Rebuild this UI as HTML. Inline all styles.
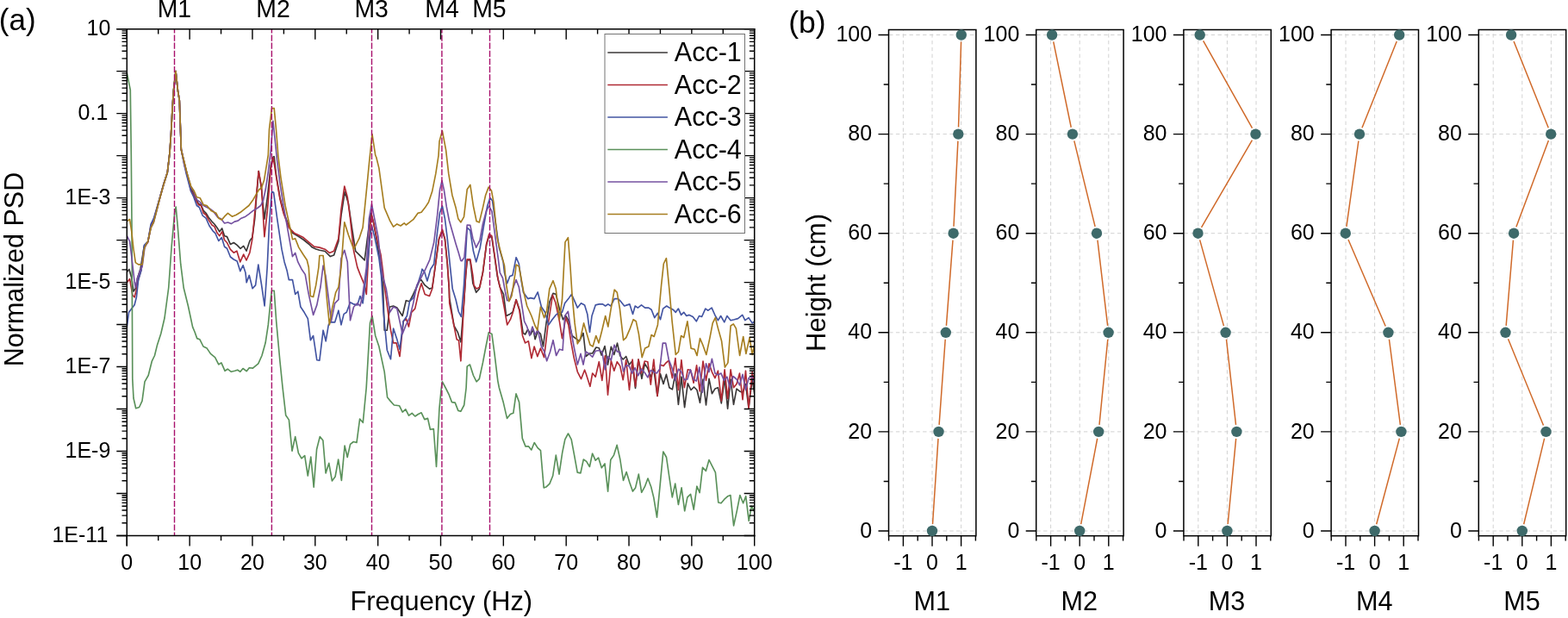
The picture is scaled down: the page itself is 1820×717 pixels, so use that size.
<!DOCTYPE html>
<html><head><meta charset="utf-8"><title>PSD and mode shapes</title>
<style>html,body{margin:0;padding:0;background:#fff;overflow:hidden;}svg{display:block;}</style>
</head><body>
<svg width="1820" height="717" viewBox="0 0 1820 717">
<rect width="1820" height="717" fill="#fff"/>
<g font-family="'Liberation Sans', Arial, sans-serif" fill="#000">
<clipPath id="clipA"><rect x="147.3" y="33.66" width="728.4000000000001" height="587.84"/></clipPath>
<g clip-path="url(#clipA)" fill="none" stroke-width="1.65" stroke-linejoin="round" stroke-linecap="round">
<path d="M147.2,315.8 L149.9,312.4 L152.8,322.5 L155.0,338.1 L157.3,334.7 L159.6,322.5 L163.0,312.0 L167.3,286.0 L171.7,280.5 L175.1,263.0 L178.4,256.0 L181.8,243.5 L185.0,231.5 L190.0,213.7 L194.3,200.0 L197.0,177.1 L198.6,153.7 L200.1,125.0 L201.5,104.9 L204.0,82.5 L206.4,104.9 L208.3,116.6 L210.3,173.2 L212.0,180.5 L216.0,197.0 L221.6,219.0 L224.5,223.9 L227.4,229.8 L230.4,236.6 L233.3,237.6 L236.2,244.4 L239.1,247.3 L242.1,252.2 L246.0,257.1 L248.9,260.0 L251.8,263.9 L254.8,268.8 L257.7,264.9 L260.6,273.7 L263.5,274.6 L267.4,283.4 L271.3,281.5 L275.2,284.4 L279.1,288.3 L282.7,285.4 L286.0,291.2 L289.9,279.5 L292.8,275.6 L295.7,254.1 L297.7,228.8 L300.2,198.5 L303.5,219.0 L306.9,254.1 L310.4,228.8 L314.3,191.7 L317.2,182.0 L318.2,181.5 L320.7,204.0 L324.9,229.0 L329.1,246.0 L335.3,262.0 L339.5,270.4 L346.0,274.0 L352.1,278.0 L358.3,283.0 L362.5,287.1 L366.7,289.0 L370.9,290.3 L377.2,291.5 L383.4,297.6 L387.6,296.0 L392.9,280.0 L396.0,250.0 L400.2,222.3 L404.4,236.0 L408.5,264.1 L412.7,291.3 L419.0,297.6 L423.2,301.8 L426.3,277.0 L430.5,247.4 L433.6,258.0 L437.8,282.0 L441.5,305.0 L444.5,330.0 L446.2,383.2 L449.3,383.2 L452.5,356.0 L456.6,355.0 L460.8,357.0 L467.1,366.5 L471.3,348.7 L475.5,349.7 L479.7,341.4 L488.0,323.6 L493.2,330.9 L498.5,335.1 L501.7,334.0 L505.6,306.0 L509.5,277.5 L513.4,267.5 L516.4,277.5 L519.3,306.5 L521.3,335.0 L521.7,345.6 L527.0,378.0 L531.2,385.3 L534.9,396.8 L538.5,351.8 L540.6,320.0 L542.2,302.0 L545.8,302.0 L548.9,328.8 L552.7,339.3 L556.3,335.1 L560.4,316.3 L562.5,300.0 L564.6,284.0 L567.8,273.0 L570.9,276.0 L574.0,297.0 L577.2,320.0 L580.3,333.0 L584.5,341.4 L587.6,366.5 L591.8,364.4 L595.0,362.3 L599.1,347.7 L603.3,360.2 L607.1,386.4 L609.6,388.0 L612.7,382.2 L615.9,388.0 L619.0,382.2 L621.1,393.7 L624.2,384.3 L627.4,387.4 L630.5,402.0 L634.0,375.0 L638.0,350.0 L642.0,340.3 L645.2,341.4 L649.4,358.1 L653.5,370.7 L656.7,366.5 L659.8,371.7 L664.0,389.5 L668.2,392.6 L672.4,395.8 L677.0,386.4 L680.0,413.5 L684.2,410.0 L687.7,410.0 L691.9,403.0 L695.3,403.7 L698.1,412.1 L702.0,401.6 L705.5,423.2 L709.3,402.3 L712.8,411.4 L716.5,398.1 L719.7,412.8 L723.2,417.0 L726.7,413.5 L730.2,423.2 L733.7,419.0 L737.5,450.4 L741.0,417.0 L744.9,439.3 L748.3,421.8 L751.8,427.4 L755.3,437.2 L758.8,428.1 L763.0,459.5 L766.5,433.7 L770.0,445.5 L773.4,434.4 L776.9,449.7 L780.4,451.8 L783.9,433.7 L787.4,469.3 L790.9,437.2 L794.6,472.7 L798.3,444.9 L802.0,452.5 L805.5,449.0 L809.0,452.5 L812.5,467.2 L816.0,440.0 L819.5,470.0 L823.0,439.3 L826.4,456.7 L829.9,451.1 L833.4,449.7 L837.3,467.9 L841.1,438.6 L844.6,474.1 L848.1,440.0 L851.5,469.3 L855.0,451.1 L858.5,453.9 L862.0,455.3 L865.5,445.5 L869.0,473.4 L873.2,440.0 L876.7,463.7" stroke="#3a3737"/>
<path d="M147.2,328.1 L150.6,323.6 L153.9,342.5 L156.1,344.8 L158.4,335.9 L160.6,324.0 L164.0,313.0 L167.3,287.0 L171.7,281.0 L175.1,262.0 L178.4,255.0 L181.8,243.0 L185.0,231.5 L190.0,213.5 L194.3,200.0 L197.0,177.1 L198.6,153.7 L200.1,125.0 L201.5,104.9 L204.0,82.5 L206.4,104.9 L208.3,116.6 L210.3,173.2 L212.0,181.0 L216.0,198.0 L221.6,221.0 L224.5,225.9 L227.4,232.7 L230.4,237.6 L233.3,238.5 L236.2,247.3 L239.1,249.3 L242.1,255.1 L246.0,261.0 L248.9,262.9 L251.8,269.8 L254.8,273.7 L257.7,268.8 L260.6,278.5 L263.5,281.5 L267.4,289.3 L271.3,293.2 L274.9,291.2 L278.8,303.9 L282.7,295.1 L286.0,302.0 L289.9,293.2 L292.8,277.6 L295.1,254.1 L297.7,224.9 L300.2,198.5 L303.5,217.1 L306.9,274.6 L310.4,244.4 L314.3,195.6 L317.2,182.9 L320.7,205.6 L324.9,230.7 L329.1,247.4 L335.3,264.1 L341.6,270.4 L346.0,272.5 L352.1,275.6 L358.3,280.9 L364.6,286.1 L370.9,287.1 L377.2,289.2 L382.4,293.4 L387.6,291.3 L392.9,276.7 L396.0,243.2 L399.8,216.0 L403.3,228.6 L406.5,253.7 L410.6,291.3 L414.8,310.1 L418.0,318.4 L423.2,330.9 L425.3,341.4 L427.5,300.0 L429.5,264.1 L431.5,249.5 L434.7,264.0 L437.8,278.8 L442.0,295.5 L444.5,315.0 L446.2,330.9 L450.4,362.3 L453.5,383.2 L456.6,397.8 L460.0,397.8 L464.0,413.5 L468.2,372.7 L471.3,369.6 L474.4,379.0 L477.6,362.3 L481.7,358.1 L485.9,339.3 L489.1,328.8 L493.2,341.4 L498.5,343.5 L501.7,335.0 L505.6,306.3 L509.5,277.0 L513.4,266.3 L516.4,277.0 L519.3,306.3 L521.3,335.0 L521.7,351.8 L527.0,378.0 L530.1,393.7 L532.5,395.0 L534.9,418.8 L538.5,351.8 L540.5,320.0 L542.2,300.8 L545.8,300.8 L548.9,320.0 L550.0,330.9 L553.1,335.1 L556.9,333.0 L560.4,316.3 L562.5,300.0 L564.6,283.0 L567.8,271.5 L570.9,274.0 L574.0,295.5 L577.2,318.0 L578.2,324.6 L582.4,341.4 L585.5,358.1 L588.7,376.9 L592.4,370.7 L595.4,362.3 L599.1,347.7 L602.9,360.2 L606.5,389.5 L609.6,397.9 L613.4,395.8 L616.9,415.6 L620.1,402.0 L623.8,413.6 L627.4,404.1 L631.6,414.6 L635.8,379.0 L641.4,342.4 L644.7,350.8 L649.4,372.8 L652.5,392.6 L656.7,368.6 L659.8,376.9 L663.0,397.9 L666.1,414.6 L670.3,431.3 L674.5,439.7 L678.6,429.2 L680.0,433.0 L684.9,448.3 L687.7,433.0 L691.2,437.2 L695.3,419.7 L698.8,441.4 L702.3,412.8 L705.5,458.1 L709.3,418.4 L712.8,430.2 L716.3,419.7 L719.7,424.6 L723.2,440.7 L726.7,417.7 L730.5,452.5 L734.1,417.0 L737.5,448.3 L741.0,417.0 L744.4,433.0 L748.3,419.0 L751.8,419.7 L755.3,446.2 L758.8,417.0 L763.0,459.5 L766.5,423.2 L770.0,424.6 L773.0,421.0 L776.2,418.4 L780.4,438.6 L783.9,415.6 L787.4,452.5 L790.9,417.7 L794.4,449.7 L798.3,428.8 L801.6,429.5 L805.1,444.2 L808.6,423.9 L812.2,453.9 L816.0,419.0 L819.5,441.4 L823.0,421.8 L826.4,431.6 L829.9,438.6 L833.4,430.2 L837.3,465.1 L841.1,428.8 L844.6,462.3 L848.1,428.8 L851.5,449.7 L855.0,445.5 L858.5,433.0 L862.0,463.7 L865.5,430.2 L869.0,473.4 L873.2,431.6 L876.7,453.9" stroke="#b02a34"/>
<path d="M147.2,380.4 L149.5,362.6 L152.8,358.1 L156.1,353.7 L158.4,344.8 L160.6,324.7 L164.0,313.6 L167.3,284.6 L171.7,280.1 L175.1,260.1 L178.4,253.4 L181.8,242.0 L185.0,231.0 L190.0,213.0 L194.3,200.5 L197.0,177.1 L198.6,153.7 L200.1,125.0 L201.5,104.9 L204.0,82.5 L206.4,104.9 L208.3,116.6 L210.3,173.2 L212.0,182.0 L216.1,201.4 L221.6,222.0 L224.5,227.8 L228.4,238.5 L231.3,240.5 L235.2,250.2 L239.1,253.2 L243.0,262.0 L247.0,267.8 L249.9,270.7 L253.8,279.5 L257.3,275.6 L260.6,286.3 L263.5,288.3 L267.4,298.0 L271.3,301.0 L275.2,302.9 L278.8,314.6 L282.1,307.8 L285.0,316.6 L286.2,327.8 L289.3,319.4 L293.1,334.7 L296.6,330.9 L299.8,307.0 L303.5,330.0 L307.1,355.0 L310.2,310.0 L312.5,260.0 L315.5,222.3 L317.6,223.3 L321.7,253.7 L327.0,289.2 L330.1,303.9 L333.2,314.3 L335.3,324.6 L339.5,324.6 L342.7,341.4 L345.8,338.2 L348.9,356.0 L353.1,362.3 L357.3,369.6 L360.4,394.7 L363.6,389.5 L367.8,417.7 L370.9,418.1 L375.1,383.2 L378.2,395.8 L381.3,376.9 L383.4,373.8 L388.7,373.8 L392.9,360.2 L396.0,376.9 L399.1,364.4 L402.3,362.3 L406.5,350.8 L410.6,352.9 L414.8,353.9 L418.0,343.5 L421.1,351.8 L426.3,310.0 L429.5,274.6 L431.5,262.0 L434.7,274.6 L439.9,299.7 L442.5,320.0 L445.1,362.3 L449.3,406.2 L453.5,416.7 L456.6,381.1 L460.8,393.7 L464.0,405.2 L468.2,372.7 L472.4,366.5 L475.5,349.7 L479.7,345.6 L483.8,333.0 L489.1,316.3 L490.0,312.2 L492.9,316.1 L495.9,325.9 L499.8,312.2 L503.7,306.3 L507.6,269.2 L510.5,246.8 L513.4,238.9 L516.4,253.6 L519.3,277.0 L522.2,306.3 L525.2,335.0 L529.1,347.7 L532.2,361.3 L535.3,367.5 L538.5,330.9 L542.2,264.1 L545.8,267.3 L549.4,291.3 L552.7,303.9 L557.3,287.2 L561.5,262.0 L565.7,239.0 L568.8,229.6 L571.5,232.8 L575.1,257.9 L579.3,287.2 L584.1,303.9 L585.5,316.3 L588.7,328.8 L591.8,320.5 L595.0,319.4 L599.1,298.7 L602.3,306.0 L605.0,325.0 L607.5,339.3 L612.7,346.6 L615.9,345.6 L620.1,346.6 L624.2,338.9 L628.4,356.0 L632.6,362.3 L636.8,376.9 L641.0,370.7 L645.2,365.4 L649.4,362.3 L652.5,362.3 L655.6,351.8 L659.8,346.6 L663.4,341.4 L667.1,349.7 L670.3,357.1 L674.5,351.8 L678.6,353.9 L681.8,364.4 L684.5,385.3 L687.0,366.5 L691.2,353.9 L695.4,352.9 L699.6,352.9 L702.7,355.0 L705.8,352.9 L709.0,355.0 L713.2,346.6 L717.3,346.6 L720.5,349.7 L724.7,355.0 L727.8,353.9 L730.9,352.9 L734.5,364.4 L737.2,355.0 L740.4,357.1 L744.5,353.9 L748.7,357.1 L752.9,357.1 L756.1,359.2 L759.8,368.6 L763.4,363.3 L766.5,370.7 L769.6,358.1 L773.8,355.0 L777.0,357.1 L781.2,359.2 L784.3,362.3 L787.4,358.1 L790.6,365.4 L793.7,362.3 L796.8,366.5 L800.0,365.4 L804.2,367.5 L808.3,372.8 L811.5,366.5 L814.6,367.5 L818.8,358.1 L821.9,360.2 L826.1,357.1 L830.3,366.5 L833.5,371.7 L836.6,366.5 L840.8,373.8 L843.9,366.5 L848.1,371.7 L852.3,370.7 L856.5,369.6 L861.7,365.4 L864.8,371.7 L869.0,368.6 L873.2,374.9 L875.7,372.8" stroke="#4254a2"/>
<path d="M147.1,83.3 L151.3,104.3 L152.3,180.0 L153.0,260.0 L153.4,351.8 L153.8,439.7 L155.0,462.0 L157.7,473.7 L161.6,472.5 L165.0,465.1 L168.0,442.8 L172.2,435.5 L176.4,418.8 L179.5,412.5 L182.6,399.9 L186.8,387.0 L191.0,369.0 L195.7,334.0 L199.2,285.3 L202.7,247.0 L204.2,240.0 L206.2,262.0 L209.7,306.2 L213.2,334.0 L218.4,355.0 L223.6,379.4 L226.0,385.0 L228.7,392.6 L231.8,393.7 L236.0,402.0 L240.2,404.1 L244.4,410.4 L249.6,414.6 L253.8,422.9 L256.9,420.9 L261.1,430.3 L264.2,428.2 L268.4,431.3 L272.6,430.3 L275.7,429.2 L278.9,431.3 L282.0,427.5 L286.2,430.7 L289.3,426.7 L293.5,427.1 L299.8,421.9 L304.0,412.5 L308.1,397.8 L311.3,376.9 L314.4,345.6 L315.5,337.2 L318.2,337.2 L320.7,372.7 L324.9,418.8 L328.1,450.0 L331.7,481.7 L335.4,487.1 L339.0,523.2 L342.7,506.6 L346.4,525.7 L350.0,531.8 L353.7,528.6 L357.3,552.0 L360.8,530.1 L364.2,565.2 L367.6,521.3 L371.3,506.6 L374.9,511.0 L378.1,548.9 L381.8,537.4 L385.4,557.9 L389.1,553.0 L392.7,533.0 L396.4,557.4 L400.1,517.1 L403.2,530.5 L406.6,515.4 L410.3,512.5 L414.0,513.5 L417.6,486.1 L421.3,490.3 L423.3,469.5 L425.2,450.0 L429.5,374.8 L432.0,366.5 L435.7,389.5 L439.9,402.0 L446.2,431.3 L449.6,461.0 L453.0,465.1 L457.4,470.0 L463.5,470.7 L467.2,478.1 L470.8,474.9 L474.5,482.2 L478.2,479.3 L481.8,483.0 L485.5,480.5 L489.1,478.8 L492.8,486.6 L496.5,485.4 L499.4,498.3 L503.3,497.6 L506.5,541.5 L509.9,474.4 L512.3,450.0 L513.4,442.8 L517.2,450.0 L520.9,457.3 L524.5,466.6 L528.2,467.1 L531.8,476.4 L534.8,477.3 L538.7,470.0 L541.1,450.0 L542.2,425.1 L545.4,423.0 L549.4,435.5 L553.1,442.8 L556.3,439.7 L560.4,420.9 L564.0,402.0 L567.3,385.7 L570.9,387.4 L574.0,410.4 L577.8,441.8 L579.4,450.0 L584.3,467.1 L588.5,485.4 L592.4,480.5 L595.8,479.3 L599.0,456.8 L602.6,466.6 L606.3,508.6 L610.0,517.9 L613.6,517.9 L616.8,522.0 L620.2,513.5 L624.1,519.6 L627.5,522.7 L631.2,565.9 L634.4,564.7 L638.0,561.1 L641.7,552.0 L645.3,528.1 L649.0,550.1 L652.7,525.2 L655.8,509.8 L659.5,503.0 L663.2,509.8 L666.6,528.1 L670.2,548.1 L673.9,548.9 L677.3,533.0 L680.7,535.4 L684.4,541.5 L687.6,526.2 L691.2,534.2 L694.6,531.0 L698.3,542.8 L702.0,537.9 L705.6,570.1 L708.8,533.5 L712.5,528.1 L716.1,516.4 L719.8,533.0 L723.5,557.4 L727.1,547.6 L730.8,559.8 L734.4,570.1 L737.6,565.9 L741.3,550.1 L744.7,571.3 L748.4,564.7 L752.0,555.0 L755.7,564.7 L758.8,577.4 L762.5,600.1 L766.2,562.3 L769.8,524.0 L773.5,530.5 L776.7,552.5 L780.3,576.9 L783.7,561.1 L787.4,585.5 L791.1,565.9 L794.7,592.8 L797.9,576.9 L801.6,573.3 L805.2,591.1 L808.9,564.2 L812.1,571.6 L815.5,542.3 L819.4,546.4 L823.0,533.5 L826.7,540.8 L830.4,548.1 L833.8,583.0 L837.0,583.8 L840.6,579.4 L844.8,575.7 L847.9,574.5 L851.6,609.9 L855.3,592.8 L858.9,574.5 L862.6,583.8 L865.7,575.7 L869.2,604.3 L872.3,587.2 L875.7,593.5" stroke="#5a915a"/>
<path d="M147.2,273.4 L150.6,280.1 L152.8,298.0 L156.1,326.9 L157.3,333.6 L159.5,322.5 L162.8,313.6 L165.1,309.1 L168.0,287.1 L171.7,280.1 L175.1,264.5 L178.4,257.8 L181.8,244.5 L185.0,232.0 L190.0,213.9 L194.3,200.0 L197.0,177.1 L198.6,153.7 L200.1,125.0 L201.5,104.9 L204.0,82.5 L206.4,104.9 L208.3,116.6 L210.3,173.2 L211.8,180.0 L214.0,192.0 L221.6,216.5 L224.5,221.0 L228.4,231.7 L232.3,234.6 L236.2,238.5 L240.1,240.5 L244.0,242.4 L247.9,245.4 L252.8,252.2 L256.7,254.1 L260.6,259.0 L264.5,258.0 L268.4,259.6 L272.3,257.1 L276.2,256.1 L280.1,253.2 L285.0,251.2 L288.9,248.3 L293.8,244.4 L298.7,241.5 L302.6,238.5 L305.5,232.7 L308.4,219.0 L311.3,199.5 L314.4,174.2 L316.9,140.4 L319.5,165.0 L321.5,185.0 L324.9,211.8 L329.1,239.0 L334.3,268.3 L339.5,297.6 L342.7,293.4 L345.8,303.9 L350.0,312.2 L354.2,318.4 L358.3,341.4 L363.6,365.4 L367.8,353.9 L372.0,333.0 L375.1,308.0 L378.0,320.0 L381.3,345.6 L384.5,372.7 L388.7,351.8 L392.9,347.6 L396.0,299.7 L399.8,290.3 L403.3,303.9 L406.5,371.7 L410.6,356.0 L414.8,351.8 L418.0,355.0 L421.1,341.4 L425.3,310.0 L428.4,253.7 L431.5,236.9 L434.7,253.7 L438.9,274.6 L441.5,300.0 L444.1,320.0 L448.3,335.1 L452.5,362.3 L456.6,356.0 L460.8,358.0 L467.1,387.4 L471.3,376.9 L475.5,368.6 L479.7,351.8 L483.8,330.9 L489.1,321.5 L493.9,312.2 L498.8,301.4 L503.7,281.0 L507.6,249.7 L510.5,220.4 L513.0,209.6 L515.4,220.4 L518.3,239.9 L521.3,255.5 L525.2,269.2 L529.1,282.9 L532.2,293.0 L534.9,302.4 L536.0,302.8 L538.9,298.7 L542.2,261.0 L545.8,261.4 L548.9,276.7 L552.7,287.2 L556.9,278.8 L560.4,260.0 L564.6,244.3 L567.8,239.0 L570.9,245.3 L574.0,268.3 L578.2,299.7 L580.3,316.3 L583.5,322.5 L586.6,339.3 L588.7,348.7 L591.8,347.7 L596.0,333.0 L599.1,324.6 L602.3,333.0 L605.4,351.8 L608.6,372.8 L611.7,379.0 L614.8,389.5 L618.0,379.0 L621.1,388.5 L624.2,382.2 L628.4,402.0 L631.6,407.3 L634.7,418.8 L638.5,408.3 L642.0,394.7 L645.6,412.5 L649.4,405.2 L653.1,406.2 L655.6,366.5 L659.4,361.3 L662.3,381.1 L666.1,402.0 L670.3,423.0 L674.0,410.4 L677.0,423.0 L680.0,407.9 L683.5,410.5 L687.7,414.2 L691.2,407.2 L695.3,406.5 L698.8,407.9 L702.3,428.8 L705.8,413.5 L709.3,417.7 L713.1,400.2 L716.3,407.9 L719.7,408.6 L723.5,430.9 L726.7,423.9 L730.2,424.6 L733.7,433.0 L737.2,426.7 L740.7,435.8 L744.4,428.1 L748.3,432.3 L751.8,437.9 L755.3,429.5 L758.8,431.6 L762.3,433.0 L765.8,428.1 L769.3,398.1 L772.7,398.1 L776.2,417.0 L779.7,426.0 L783.9,441.4 L787.4,428.1 L790.9,431.6 L794.4,440.7 L797.9,440.0 L801.3,428.8 L804.8,440.0 L808.3,442.1 L811.8,426.0 L815.3,455.3 L819.5,421.8 L823.0,431.6 L826.4,416.3 L829.9,433.0 L833.4,435.1 L836.9,433.0 L840.4,441.4 L843.9,437.2 L847.4,450.4 L850.9,436.5 L855.0,440.0 L858.5,446.9 L862.0,434.4 L865.5,452.5 L869.0,438.6 L872.5,436.5 L876.7,446.2" stroke="#7450a0"/>
<path d="M147.2,256.7 L150.6,254.5 L152.8,269.0 L155.0,289.0 L157.3,304.6 L160.6,306.9 L165.1,306.9 L167.3,289.0 L169.5,283.5 L171.7,280.1 L175.1,264.5 L178.4,257.8 L181.8,244.5 L185.0,232.0 L190.0,213.9 L194.3,200.0 L197.0,177.1 L198.6,153.7 L200.1,125.0 L201.5,104.9 L204.0,82.5 L206.4,104.9 L208.3,116.6 L210.3,173.2 L211.8,180.0 L216.7,199.5 L221.6,216.1 L225.5,222.0 L228.4,228.8 L232.3,229.8 L236.2,237.6 L240.1,238.5 L245.0,244.4 L250.9,247.3 L253.8,253.2 L257.3,255.1 L260.6,251.2 L264.5,247.3 L269.4,251.2 L274.3,249.3 L279.1,246.3 L284.0,242.4 L288.9,238.5 L293.8,231.7 L297.7,224.9 L300.6,220.0 L303.5,218.0 L306.5,209.3 L309.4,191.7 L311.3,180.0 L312.5,150.0 L315.5,125.6 L318.2,125.6 L320.5,150.0 L322.8,180.0 L325.9,205.6 L331.2,239.0 L335.3,257.8 L339.5,277.7 L342.7,276.7 L346.8,287.1 L352.1,295.5 L356.3,301.8 L358.3,310.0 L360.4,343.5 L363.6,344.5 L366.7,330.9 L369.9,310.0 L370.9,296.5 L375.1,296.5 L376.5,310.0 L379.3,345.6 L382.4,376.9 L385.5,358.1 L389.7,339.3 L392.9,333.0 L396.0,310.0 L399.8,257.8 L404.4,272.5 L410.6,289.2 L416.9,276.7 L421.1,264.1 L426.3,211.8 L428.4,190.0 L432.0,155.5 L435.7,180.0 L436.8,182.5 L439.9,195.1 L446.2,241.1 L452.5,255.8 L456.6,263.1 L460.8,259.9 L465.0,262.0 L469.2,258.9 L471.3,261.0 L475.5,257.8 L479.7,254.7 L484.9,247.4 L489.1,246.3 L493.2,241.1 L497.4,234.8 L501.6,222.3 L505.8,201.4 L509.0,180.5 L510.0,163.9 L513.4,151.8 L517.6,174.2 L520.7,201.4 L524.9,226.5 L529.1,241.1 L531.8,253.7 L534.9,257.9 L538.5,251.6 L542.2,219.8 L545.8,214.4 L549.4,239.0 L553.1,256.8 L556.3,257.9 L560.4,241.1 L563.6,226.5 L567.1,217.1 L570.5,221.3 L573.0,234.9 L577.2,276.7 L581.4,293.4 L585.5,308.1 L587.6,330.0 L590.8,349.7 L593.9,343.5 L598.1,316.3 L599.1,307.0 L602.3,309.1 L604.4,320.0 L607.5,337.2 L611.7,355.0 L616.9,366.5 L621.1,378.0 L623.8,383.2 L627.4,356.0 L631.6,368.6 L634.7,360.2 L637.8,335.1 L642.0,325.7 L645.2,335.1 L649.4,370.7 L652.5,347.7 L656.0,280.9 L659.4,275.6 L662.0,310.0 L664.0,341.4 L667.1,374.9 L670.3,398.9 L673.4,393.7 L677.6,374.9 L681.8,389.5 L684.9,400.0 L688.1,402.0 L691.8,389.5 L695.0,397.9 L698.5,384.3 L702.7,366.5 L705.8,379.0 L709.0,359.2 L713.2,336.2 L716.3,339.3 L719.4,358.1 L723.6,394.7 L726.8,391.6 L730.9,382.2 L735.1,370.7 L738.3,372.8 L741.4,387.4 L745.2,414.6 L748.7,404.1 L752.9,402.0 L756.1,388.5 L759.2,390.5 L763.4,376.9 L767.6,330.9 L770.3,306.0 L773.4,299.7 L777.0,337.2 L780.1,372.8 L784.3,411.5 L787.4,408.3 L790.6,389.5 L793.7,391.6 L797.9,372.8 L802.1,404.1 L806.2,405.2 L809.0,412.5 L812.5,392.6 L815.7,400.0 L819.8,411.5 L824.0,391.6 L827.2,374.9 L830.3,368.6 L833.5,381.1 L837.6,395.8 L841.4,426.1 L844.9,420.9 L848.1,378.0 L851.3,375.9 L854.4,381.1 L858.6,412.5 L862.7,390.5 L865.9,410.4 L870.1,391.6 L873.2,411.5 L875.7,400.0" stroke="#a67e20"/>
</g>
<line x1="202.5" y1="33.66" x2="202.5" y2="621.5" stroke="#a8106c" stroke-width="1.4" stroke-dasharray="7.2 1.96" stroke-dashoffset="2.36"/>
<line x1="315.4" y1="33.66" x2="315.4" y2="621.5" stroke="#a8106c" stroke-width="1.4" stroke-dasharray="7.2 1.96" stroke-dashoffset="2.36"/>
<line x1="431.5" y1="33.66" x2="431.5" y2="621.5" stroke="#a8106c" stroke-width="1.4" stroke-dasharray="7.2 1.96" stroke-dashoffset="2.36"/>
<line x1="512.9" y1="33.66" x2="512.9" y2="621.5" stroke="#a8106c" stroke-width="1.4" stroke-dasharray="7.2 1.96" stroke-dashoffset="2.36"/>
<line x1="568.5" y1="33.66" x2="568.5" y2="621.5" stroke="#a8106c" stroke-width="1.4" stroke-dasharray="7.2 1.96" stroke-dashoffset="2.36"/>
<g stroke="#000" stroke-width="1.5" fill="none">
<line x1="135.3" y1="33.66" x2="876.45" y2="33.66"/>
<line x1="135.3" y1="621.5" x2="876.45" y2="621.5"/>
<line x1="147.3" y1="32.91" x2="147.3" y2="633.5"/>
<line x1="875.7" y1="32.91" x2="875.7" y2="622.25"/>
<path d="M135.3,33.66H147.3M875.7,33.66H863.7M141.5,67.90H147.3M875.7,67.90H869.9000000000001M141.5,59.27H147.3M875.7,59.27H869.9000000000001M141.5,53.15H147.3M875.7,53.15H869.9000000000001M141.5,48.41H147.3M875.7,48.41H869.9000000000001M141.5,44.53H147.3M875.7,44.53H869.9000000000001M141.5,41.25H147.3M875.7,41.25H869.9000000000001M141.5,38.41H147.3M875.7,38.41H869.9000000000001M141.5,35.90H147.3M875.7,35.90H869.9000000000001M135.3,82.65H147.3M875.7,82.65H863.7M141.5,116.89H147.3M875.7,116.89H869.9000000000001M141.5,108.26H147.3M875.7,108.26H869.9000000000001M141.5,102.14H147.3M875.7,102.14H869.9000000000001M141.5,97.39H147.3M875.7,97.39H869.9000000000001M141.5,93.51H147.3M875.7,93.51H869.9000000000001M141.5,90.23H147.3M875.7,90.23H869.9000000000001M141.5,87.39H147.3M875.7,87.39H869.9000000000001M141.5,84.89H147.3M875.7,84.89H869.9000000000001M135.3,131.63H147.3M875.7,131.63H863.7M141.5,165.87H147.3M875.7,165.87H869.9000000000001M141.5,157.25H147.3M875.7,157.25H869.9000000000001M141.5,151.13H147.3M875.7,151.13H869.9000000000001M141.5,146.38H147.3M875.7,146.38H869.9000000000001M141.5,142.50H147.3M875.7,142.50H869.9000000000001M141.5,139.22H147.3M875.7,139.22H869.9000000000001M141.5,136.38H147.3M875.7,136.38H869.9000000000001M141.5,133.87H147.3M875.7,133.87H869.9000000000001M135.3,180.62H147.3M875.7,180.62H863.7M141.5,214.86H147.3M875.7,214.86H869.9000000000001M141.5,206.23H147.3M875.7,206.23H869.9000000000001M141.5,200.11H147.3M875.7,200.11H869.9000000000001M141.5,195.37H147.3M875.7,195.37H869.9000000000001M141.5,191.49H147.3M875.7,191.49H869.9000000000001M141.5,188.21H147.3M875.7,188.21H869.9000000000001M141.5,185.37H147.3M875.7,185.37H869.9000000000001M141.5,182.86H147.3M875.7,182.86H869.9000000000001M135.3,229.61H147.3M875.7,229.61H863.7M141.5,263.85H147.3M875.7,263.85H869.9000000000001M141.5,255.22H147.3M875.7,255.22H869.9000000000001M141.5,249.10H147.3M875.7,249.10H869.9000000000001M141.5,244.35H147.3M875.7,244.35H869.9000000000001M141.5,240.47H147.3M875.7,240.47H869.9000000000001M141.5,237.19H147.3M875.7,237.19H869.9000000000001M141.5,234.35H147.3M875.7,234.35H869.9000000000001M141.5,231.85H147.3M875.7,231.85H869.9000000000001M135.3,278.59H147.3M875.7,278.59H863.7M141.5,312.83H147.3M875.7,312.83H869.9000000000001M141.5,304.21H147.3M875.7,304.21H869.9000000000001M141.5,298.09H147.3M875.7,298.09H869.9000000000001M141.5,293.34H147.3M875.7,293.34H869.9000000000001M141.5,289.46H147.3M875.7,289.46H869.9000000000001M141.5,286.18H147.3M875.7,286.18H869.9000000000001M141.5,283.34H147.3M875.7,283.34H869.9000000000001M141.5,280.83H147.3M875.7,280.83H869.9000000000001M135.3,327.58H147.3M875.7,327.58H863.7M141.5,361.82H147.3M875.7,361.82H869.9000000000001M141.5,353.19H147.3M875.7,353.19H869.9000000000001M141.5,347.07H147.3M875.7,347.07H869.9000000000001M141.5,342.33H147.3M875.7,342.33H869.9000000000001M141.5,338.45H147.3M875.7,338.45H869.9000000000001M141.5,335.17H147.3M875.7,335.17H869.9000000000001M141.5,332.33H147.3M875.7,332.33H869.9000000000001M141.5,329.82H147.3M875.7,329.82H869.9000000000001M135.3,376.57H147.3M875.7,376.57H863.7M141.5,410.81H147.3M875.7,410.81H869.9000000000001M141.5,402.18H147.3M875.7,402.18H869.9000000000001M141.5,396.06H147.3M875.7,396.06H869.9000000000001M141.5,391.31H147.3M875.7,391.31H869.9000000000001M141.5,387.43H147.3M875.7,387.43H869.9000000000001M141.5,384.15H147.3M875.7,384.15H869.9000000000001M141.5,381.31H147.3M875.7,381.31H869.9000000000001M141.5,378.81H147.3M875.7,378.81H869.9000000000001M135.3,425.55H147.3M875.7,425.55H863.7M141.5,459.79H147.3M875.7,459.79H869.9000000000001M141.5,451.17H147.3M875.7,451.17H869.9000000000001M141.5,445.05H147.3M875.7,445.05H869.9000000000001M141.5,440.30H147.3M875.7,440.30H869.9000000000001M141.5,436.42H147.3M875.7,436.42H869.9000000000001M141.5,433.14H147.3M875.7,433.14H869.9000000000001M141.5,430.30H147.3M875.7,430.30H869.9000000000001M141.5,427.79H147.3M875.7,427.79H869.9000000000001M135.3,474.54H147.3M875.7,474.54H863.7M141.5,508.78H147.3M875.7,508.78H869.9000000000001M141.5,500.15H147.3M875.7,500.15H869.9000000000001M141.5,494.03H147.3M875.7,494.03H869.9000000000001M141.5,489.29H147.3M875.7,489.29H869.9000000000001M141.5,485.41H147.3M875.7,485.41H869.9000000000001M141.5,482.13H147.3M875.7,482.13H869.9000000000001M141.5,479.29H147.3M875.7,479.29H869.9000000000001M141.5,476.78H147.3M875.7,476.78H869.9000000000001M135.3,523.53H147.3M875.7,523.53H863.7M141.5,557.77H147.3M875.7,557.77H869.9000000000001M141.5,549.14H147.3M875.7,549.14H869.9000000000001M141.5,543.02H147.3M875.7,543.02H869.9000000000001M141.5,538.27H147.3M875.7,538.27H869.9000000000001M141.5,534.39H147.3M875.7,534.39H869.9000000000001M141.5,531.11H147.3M875.7,531.11H869.9000000000001M141.5,528.27H147.3M875.7,528.27H869.9000000000001M141.5,525.77H147.3M875.7,525.77H869.9000000000001M135.3,572.51H147.3M875.7,572.51H863.7M141.5,606.75H147.3M875.7,606.75H869.9000000000001M141.5,598.13H147.3M875.7,598.13H869.9000000000001M141.5,592.01H147.3M875.7,592.01H869.9000000000001M141.5,587.26H147.3M875.7,587.26H869.9000000000001M141.5,583.38H147.3M875.7,583.38H869.9000000000001M141.5,580.10H147.3M875.7,580.10H869.9000000000001M141.5,577.26H147.3M875.7,577.26H869.9000000000001M141.5,574.75H147.3M875.7,574.75H869.9000000000001M135.3,621.50H147.3M875.7,621.50H863.7M147.30,621.5V633.5M147.30,33.66V45.66M183.72,621.5V627.3M183.72,33.66V39.459999999999994M220.14,621.5V633.5M220.14,33.66V45.66M256.56,621.5V627.3M256.56,33.66V39.459999999999994M292.98,621.5V633.5M292.98,33.66V45.66M329.40,621.5V627.3M329.40,33.66V39.459999999999994M365.82,621.5V633.5M365.82,33.66V45.66M402.24,621.5V627.3M402.24,33.66V39.459999999999994M438.66,621.5V633.5M438.66,33.66V45.66M475.08,621.5V627.3M475.08,33.66V39.459999999999994M511.50,621.5V633.5M511.50,33.66V45.66M547.92,621.5V627.3M547.92,33.66V39.459999999999994M584.34,621.5V633.5M584.34,33.66V45.66M620.76,621.5V627.3M620.76,33.66V39.459999999999994M657.18,621.5V633.5M657.18,33.66V45.66M693.60,621.5V627.3M693.60,33.66V39.459999999999994M730.02,621.5V633.5M730.02,33.66V45.66M766.44,621.5V627.3M766.44,33.66V39.459999999999994M802.86,621.5V633.5M802.86,33.66V45.66M839.28,621.5V627.3M839.28,33.66V39.459999999999994M875.70,621.5V633.5M875.70,33.66V45.66" stroke-width="1.4"/>
</g>
<g font-family="'Liberation Sans', Arial, sans-serif" font-size="24" fill="#000">
<text transform="translate(128.30,41.26) scale(1,1.04)" font-size="25" text-anchor="end">10</text>
<text transform="translate(125.30,139.23) scale(1,1.04)" font-size="25" text-anchor="end">0.1</text>
<text transform="translate(128.30,237.21) scale(1,1.04)" font-size="25" text-anchor="end">1E-3</text>
<text transform="translate(128.30,335.18) scale(1,1.04)" font-size="25" text-anchor="end">1E-5</text>
<text transform="translate(128.30,433.15) scale(1,1.04)" font-size="25" text-anchor="end">1E-7</text>
<text transform="translate(128.30,531.13) scale(1,1.04)" font-size="25" text-anchor="end">1E-9</text>
<text transform="translate(125.30,629.10) scale(1,1.04)" font-size="25" text-anchor="end">1E-11</text>
<text transform="translate(147.30,660.90) scale(1,1.04)" font-size="25" text-anchor="middle">0</text>
<text transform="translate(220.14,660.90) scale(1,1.04)" font-size="25" text-anchor="middle">10</text>
<text transform="translate(292.98,660.90) scale(1,1.04)" font-size="25" text-anchor="middle">20</text>
<text transform="translate(365.82,660.90) scale(1,1.04)" font-size="25" text-anchor="middle">30</text>
<text transform="translate(438.66,660.90) scale(1,1.04)" font-size="25" text-anchor="middle">40</text>
<text transform="translate(511.50,660.90) scale(1,1.04)" font-size="25" text-anchor="middle">50</text>
<text transform="translate(584.34,660.90) scale(1,1.04)" font-size="25" text-anchor="middle">60</text>
<text transform="translate(657.18,660.90) scale(1,1.04)" font-size="25" text-anchor="middle">70</text>
<text transform="translate(730.02,660.90) scale(1,1.04)" font-size="25" text-anchor="middle">80</text>
<text transform="translate(802.86,660.90) scale(1,1.04)" font-size="25" text-anchor="middle">90</text>
<text transform="translate(875.70,660.90) scale(1,1.04)" font-size="25" text-anchor="middle">100</text>
</g>
<g font-family="'Liberation Sans', Arial, sans-serif" font-size="30" fill="#000">
<text transform="translate(512.20,707.80) scale(1,1.04)" font-size="30.7" text-anchor="middle">Frequency (Hz)</text>
<text transform="translate(26.80,312.50) rotate(-90) scale(1,1.04)" font-size="30.5" text-anchor="middle">Normalized PSD</text>
</g>
<text transform="translate(182.70,20.10) scale(1,1.04)" font-size="28.4">M1</text>
<text transform="translate(297.30,20.10) scale(1,1.04)" font-size="28.4">M2</text>
<text transform="translate(411.40,20.10) scale(1,1.04)" font-size="28.4">M3</text>
<text transform="translate(493.30,20.10) scale(1,1.04)" font-size="28.4">M4</text>
<text transform="translate(548.20,20.10) scale(1,1.04)" font-size="28.4">M5</text>
<text transform="translate(-1.20,34.60) scale(1,1)" font-size="35">(a)</text>
<rect x="702" y="39.5" width="162.5" height="231" fill="#fff" stroke="#747474" stroke-width="1"/>
<g font-family="'Liberation Sans', Arial, sans-serif" font-size="30.5" fill="#000">
<line x1="705.3" y1="61.0" x2="774.9" y2="61.0" stroke="#3a3737" stroke-width="1.5"/>
<text transform="translate(782.80,71.00) scale(1,1.04)" font-size="30.5">Acc-1</text>
<line x1="705.3" y1="98.5" x2="774.9" y2="98.5" stroke="#b02a34" stroke-width="1.5"/>
<text transform="translate(782.80,108.50) scale(1,1.04)" font-size="30.5">Acc-2</text>
<line x1="705.3" y1="136.0" x2="774.9" y2="136.0" stroke="#4254a2" stroke-width="1.5"/>
<text transform="translate(782.80,146.00) scale(1,1.04)" font-size="30.5">Acc-3</text>
<line x1="705.3" y1="173.5" x2="774.9" y2="173.5" stroke="#5a915a" stroke-width="1.5"/>
<text transform="translate(782.80,183.50) scale(1,1.04)" font-size="30.5">Acc-4</text>
<line x1="705.3" y1="211.0" x2="774.9" y2="211.0" stroke="#7450a0" stroke-width="1.5"/>
<text transform="translate(782.80,221.00) scale(1,1.04)" font-size="30.5">Acc-5</text>
<line x1="705.3" y1="248.5" x2="774.9" y2="248.5" stroke="#a67e20" stroke-width="1.5"/>
<text transform="translate(782.80,258.50) scale(1,1.04)" font-size="30.5">Acc-6</text>
</g>
<text transform="translate(915.20,38.20) scale(1,1)" font-size="35.5">(b)</text>
<text transform="translate(957.70,327.90) rotate(-90) scale(1,1.04)" font-size="31" text-anchor="middle">Height (cm)</text>
<path d="M1032.1,40.50H1132.9M1032.1,155.60H1132.9M1032.1,270.70H1132.9M1032.1,385.80H1132.9M1032.1,500.90H1132.9M1032.1,616.00H1132.9" stroke="#d2d2d2" stroke-width="1" stroke-dasharray="4.4 3.4" fill="none"/>
<path d="M1048.40,34.5V621.7M1082.00,34.5V621.7M1115.60,34.5V621.7" stroke="#d2d2d2" stroke-width="1" stroke-dasharray="4.4 3.4" stroke-dashoffset="3.1" fill="none"/>
<rect x="1031.5" y="34.5" width="101.40000000000009" height="587.2" fill="none" stroke="#000" stroke-width="1.5"/>
<path d="M1019.5,616.00H1031.5M1025.7,558.45H1031.5M1019.5,500.90H1031.5M1025.7,443.35H1031.5M1019.5,385.80H1031.5M1025.7,328.25H1031.5M1019.5,270.70H1031.5M1025.7,213.15H1031.5M1019.5,155.60H1031.5M1025.7,98.05H1031.5M1019.5,40.50H1031.5M1031.60,621.7V627.5M1048.40,621.7V633.7M1065.20,621.7V627.5M1082.00,621.7V633.7M1098.80,621.7V627.5M1115.60,621.7V633.7M1132.40,621.7V627.5" stroke="#000" stroke-width="1.4" fill="none"/>
<g font-family="'Liberation Sans', Arial, sans-serif" font-size="24" fill="#000">
<text transform="translate(1012.10,48.10) scale(1,1.04)" font-size="25" text-anchor="end">100</text>
<text transform="translate(1012.10,163.20) scale(1,1.04)" font-size="25" text-anchor="end">80</text>
<text transform="translate(1012.10,278.30) scale(1,1.04)" font-size="25" text-anchor="end">60</text>
<text transform="translate(1012.10,393.40) scale(1,1.04)" font-size="25" text-anchor="end">40</text>
<text transform="translate(1012.10,508.50) scale(1,1.04)" font-size="25" text-anchor="end">20</text>
<text transform="translate(1012.10,623.60) scale(1,1.04)" font-size="25" text-anchor="end">0</text>
<text transform="translate(1048.40,660.90) scale(1,1.04)" font-size="25" text-anchor="middle">-1</text>
<text transform="translate(1082.00,660.90) scale(1,1.04)" font-size="25" text-anchor="middle">0</text>
<text transform="translate(1115.60,660.90) scale(1,1.04)" font-size="25" text-anchor="middle">1</text>
</g>
<text transform="translate(1060.40,707.90) scale(1,1.04)" font-size="30.6">M1</text>
<path d="M1115.56,48.50L1112.54,147.60M1111.90,163.59L1107.00,262.71M1105.99,278.68L1098.41,377.82M1097.22,393.78L1090.08,492.92M1088.98,508.88L1082.52,608.02" stroke="#d06a2a" stroke-width="1.5" fill="none"/>
<circle cx="1115.80" cy="40.50" r="6.2" fill="#3e6a6a"/>
<circle cx="1112.30" cy="155.60" r="6.2" fill="#3e6a6a"/>
<circle cx="1106.60" cy="270.70" r="6.2" fill="#3e6a6a"/>
<circle cx="1097.80" cy="385.80" r="6.2" fill="#3e6a6a"/>
<circle cx="1089.50" cy="500.90" r="6.2" fill="#3e6a6a"/>
<circle cx="1082.00" cy="616.00" r="6.2" fill="#3e6a6a"/>
<path d="M1203.3,40.50H1304.1000000000001M1203.3,155.60H1304.1000000000001M1203.3,270.70H1304.1000000000001M1203.3,385.80H1304.1000000000001M1203.3,500.90H1304.1000000000001M1203.3,616.00H1304.1000000000001" stroke="#d2d2d2" stroke-width="1" stroke-dasharray="4.4 3.4" fill="none"/>
<path d="M1219.60,34.5V621.7M1253.20,34.5V621.7M1286.80,34.5V621.7" stroke="#d2d2d2" stroke-width="1" stroke-dasharray="4.4 3.4" stroke-dashoffset="3.1" fill="none"/>
<rect x="1202.7" y="34.5" width="101.40000000000009" height="587.2" fill="none" stroke="#000" stroke-width="1.5"/>
<path d="M1190.7,616.00H1202.7M1196.9,558.45H1202.7M1190.7,500.90H1202.7M1196.9,443.35H1202.7M1190.7,385.80H1202.7M1196.9,328.25H1202.7M1190.7,270.70H1202.7M1196.9,213.15H1202.7M1190.7,155.60H1202.7M1196.9,98.05H1202.7M1190.7,40.50H1202.7M1202.80,621.7V627.5M1219.60,621.7V633.7M1236.40,621.7V627.5M1253.20,621.7V633.7M1270.00,621.7V627.5M1286.80,621.7V633.7M1303.60,621.7V627.5" stroke="#000" stroke-width="1.4" fill="none"/>
<g font-family="'Liberation Sans', Arial, sans-serif" font-size="24" fill="#000">
<text transform="translate(1183.30,48.10) scale(1,1.04)" font-size="25" text-anchor="end">100</text>
<text transform="translate(1183.30,163.20) scale(1,1.04)" font-size="25" text-anchor="end">80</text>
<text transform="translate(1183.30,278.30) scale(1,1.04)" font-size="25" text-anchor="end">60</text>
<text transform="translate(1183.30,393.40) scale(1,1.04)" font-size="25" text-anchor="end">40</text>
<text transform="translate(1183.30,508.50) scale(1,1.04)" font-size="25" text-anchor="end">20</text>
<text transform="translate(1183.30,623.60) scale(1,1.04)" font-size="25" text-anchor="end">0</text>
<text transform="translate(1219.60,660.90) scale(1,1.04)" font-size="25" text-anchor="middle">-1</text>
<text transform="translate(1253.20,660.90) scale(1,1.04)" font-size="25" text-anchor="middle">0</text>
<text transform="translate(1286.80,660.90) scale(1,1.04)" font-size="25" text-anchor="middle">1</text>
</g>
<text transform="translate(1231.60,707.90) scale(1,1.04)" font-size="30.6">M2</text>
<path d="M1222.72,48.33L1243.28,147.77M1246.80,163.37L1271.10,262.93M1273.94,278.64L1285.66,377.86M1285.81,393.76L1275.99,492.94M1273.70,508.76L1254.70,608.14" stroke="#d06a2a" stroke-width="1.5" fill="none"/>
<circle cx="1221.10" cy="40.50" r="6.2" fill="#3e6a6a"/>
<circle cx="1244.90" cy="155.60" r="6.2" fill="#3e6a6a"/>
<circle cx="1273.00" cy="270.70" r="6.2" fill="#3e6a6a"/>
<circle cx="1286.60" cy="385.80" r="6.2" fill="#3e6a6a"/>
<circle cx="1275.20" cy="500.90" r="6.2" fill="#3e6a6a"/>
<circle cx="1253.20" cy="616.00" r="6.2" fill="#3e6a6a"/>
<path d="M1374.5,40.50H1475.3000000000002M1374.5,155.60H1475.3000000000002M1374.5,270.70H1475.3000000000002M1374.5,385.80H1475.3000000000002M1374.5,500.90H1475.3000000000002M1374.5,616.00H1475.3000000000002" stroke="#d2d2d2" stroke-width="1" stroke-dasharray="4.4 3.4" fill="none"/>
<path d="M1390.80,34.5V621.7M1424.40,34.5V621.7M1458.00,34.5V621.7" stroke="#d2d2d2" stroke-width="1" stroke-dasharray="4.4 3.4" stroke-dashoffset="3.1" fill="none"/>
<rect x="1373.9" y="34.5" width="101.40000000000009" height="587.2" fill="none" stroke="#000" stroke-width="1.5"/>
<path d="M1361.9,616.00H1373.9M1368.1000000000001,558.45H1373.9M1361.9,500.90H1373.9M1368.1000000000001,443.35H1373.9M1361.9,385.80H1373.9M1368.1000000000001,328.25H1373.9M1361.9,270.70H1373.9M1368.1000000000001,213.15H1373.9M1361.9,155.60H1373.9M1368.1000000000001,98.05H1373.9M1361.9,40.50H1373.9M1374.00,621.7V627.5M1390.80,621.7V633.7M1407.60,621.7V627.5M1424.40,621.7V633.7M1441.20,621.7V627.5M1458.00,621.7V633.7M1474.80,621.7V627.5" stroke="#000" stroke-width="1.4" fill="none"/>
<g font-family="'Liberation Sans', Arial, sans-serif" font-size="24" fill="#000">
<text transform="translate(1354.50,48.10) scale(1,1.04)" font-size="25" text-anchor="end">100</text>
<text transform="translate(1354.50,163.20) scale(1,1.04)" font-size="25" text-anchor="end">80</text>
<text transform="translate(1354.50,278.30) scale(1,1.04)" font-size="25" text-anchor="end">60</text>
<text transform="translate(1354.50,393.40) scale(1,1.04)" font-size="25" text-anchor="end">40</text>
<text transform="translate(1354.50,508.50) scale(1,1.04)" font-size="25" text-anchor="end">20</text>
<text transform="translate(1354.50,623.60) scale(1,1.04)" font-size="25" text-anchor="end">0</text>
<text transform="translate(1390.80,660.90) scale(1,1.04)" font-size="25" text-anchor="middle">-1</text>
<text transform="translate(1424.40,660.90) scale(1,1.04)" font-size="25" text-anchor="middle">0</text>
<text transform="translate(1458.00,660.90) scale(1,1.04)" font-size="25" text-anchor="middle">1</text>
</g>
<text transform="translate(1402.80,707.90) scale(1,1.04)" font-size="30.6">M3</text>
<path d="M1396.62,47.47L1453.48,148.63M1453.38,162.52L1394.52,263.78M1392.65,278.41L1420.45,378.09M1423.48,393.75L1434.52,492.95M1434.64,508.86L1425.16,608.04" stroke="#d06a2a" stroke-width="1.5" fill="none"/>
<circle cx="1392.70" cy="40.50" r="6.2" fill="#3e6a6a"/>
<circle cx="1457.40" cy="155.60" r="6.2" fill="#3e6a6a"/>
<circle cx="1390.50" cy="270.70" r="6.2" fill="#3e6a6a"/>
<circle cx="1422.60" cy="385.80" r="6.2" fill="#3e6a6a"/>
<circle cx="1435.40" cy="500.90" r="6.2" fill="#3e6a6a"/>
<circle cx="1424.40" cy="616.00" r="6.2" fill="#3e6a6a"/>
<path d="M1545.6999999999998,40.50H1646.5M1545.6999999999998,155.60H1646.5M1545.6999999999998,270.70H1646.5M1545.6999999999998,385.80H1646.5M1545.6999999999998,500.90H1646.5M1545.6999999999998,616.00H1646.5" stroke="#d2d2d2" stroke-width="1" stroke-dasharray="4.4 3.4" fill="none"/>
<path d="M1562.00,34.5V621.7M1595.60,34.5V621.7M1629.20,34.5V621.7" stroke="#d2d2d2" stroke-width="1" stroke-dasharray="4.4 3.4" stroke-dashoffset="3.1" fill="none"/>
<rect x="1545.1" y="34.5" width="101.40000000000009" height="587.2" fill="none" stroke="#000" stroke-width="1.5"/>
<path d="M1533.1,616.00H1545.1M1539.3,558.45H1545.1M1533.1,500.90H1545.1M1539.3,443.35H1545.1M1533.1,385.80H1545.1M1539.3,328.25H1545.1M1533.1,270.70H1545.1M1539.3,213.15H1545.1M1533.1,155.60H1545.1M1539.3,98.05H1545.1M1533.1,40.50H1545.1M1545.20,621.7V627.5M1562.00,621.7V633.7M1578.80,621.7V627.5M1595.60,621.7V633.7M1612.40,621.7V627.5M1629.20,621.7V633.7M1646.00,621.7V627.5" stroke="#000" stroke-width="1.4" fill="none"/>
<g font-family="'Liberation Sans', Arial, sans-serif" font-size="24" fill="#000">
<text transform="translate(1525.70,48.10) scale(1,1.04)" font-size="25" text-anchor="end">100</text>
<text transform="translate(1525.70,163.20) scale(1,1.04)" font-size="25" text-anchor="end">80</text>
<text transform="translate(1525.70,278.30) scale(1,1.04)" font-size="25" text-anchor="end">60</text>
<text transform="translate(1525.70,393.40) scale(1,1.04)" font-size="25" text-anchor="end">40</text>
<text transform="translate(1525.70,508.50) scale(1,1.04)" font-size="25" text-anchor="end">20</text>
<text transform="translate(1525.70,623.60) scale(1,1.04)" font-size="25" text-anchor="end">0</text>
<text transform="translate(1562.00,660.90) scale(1,1.04)" font-size="25" text-anchor="middle">-1</text>
<text transform="translate(1595.60,660.90) scale(1,1.04)" font-size="25" text-anchor="middle">0</text>
<text transform="translate(1629.20,660.90) scale(1,1.04)" font-size="25" text-anchor="middle">1</text>
</g>
<text transform="translate(1574.00,707.90) scale(1,1.04)" font-size="30.6">M4</text>
<path d="M1621.22,47.92L1580.98,148.18M1576.89,163.52L1562.91,262.78M1564.97,278.05L1608.23,378.45M1612.43,393.73L1625.37,492.97M1624.33,508.63L1597.67,608.27" stroke="#d06a2a" stroke-width="1.5" fill="none"/>
<circle cx="1624.20" cy="40.50" r="6.2" fill="#3e6a6a"/>
<circle cx="1578.00" cy="155.60" r="6.2" fill="#3e6a6a"/>
<circle cx="1561.80" cy="270.70" r="6.2" fill="#3e6a6a"/>
<circle cx="1611.40" cy="385.80" r="6.2" fill="#3e6a6a"/>
<circle cx="1626.40" cy="500.90" r="6.2" fill="#3e6a6a"/>
<circle cx="1595.60" cy="616.00" r="6.2" fill="#3e6a6a"/>
<path d="M1716.8999999999999,40.50H1817.7M1716.8999999999999,155.60H1817.7M1716.8999999999999,270.70H1817.7M1716.8999999999999,385.80H1817.7M1716.8999999999999,500.90H1817.7M1716.8999999999999,616.00H1817.7" stroke="#d2d2d2" stroke-width="1" stroke-dasharray="4.4 3.4" fill="none"/>
<path d="M1733.20,34.5V621.7M1766.80,34.5V621.7M1800.40,34.5V621.7" stroke="#d2d2d2" stroke-width="1" stroke-dasharray="4.4 3.4" stroke-dashoffset="3.1" fill="none"/>
<rect x="1716.3" y="34.5" width="101.40000000000009" height="587.2" fill="none" stroke="#000" stroke-width="1.5"/>
<path d="M1704.3,616.00H1716.3M1710.5,558.45H1716.3M1704.3,500.90H1716.3M1710.5,443.35H1716.3M1704.3,385.80H1716.3M1710.5,328.25H1716.3M1704.3,270.70H1716.3M1710.5,213.15H1716.3M1704.3,155.60H1716.3M1710.5,98.05H1716.3M1704.3,40.50H1716.3M1716.40,621.7V627.5M1733.20,621.7V633.7M1750.00,621.7V627.5M1766.80,621.7V633.7M1783.60,621.7V627.5M1800.40,621.7V633.7M1817.20,621.7V627.5" stroke="#000" stroke-width="1.4" fill="none"/>
<g font-family="'Liberation Sans', Arial, sans-serif" font-size="24" fill="#000">
<text transform="translate(1696.90,48.10) scale(1,1.04)" font-size="25" text-anchor="end">100</text>
<text transform="translate(1696.90,163.20) scale(1,1.04)" font-size="25" text-anchor="end">80</text>
<text transform="translate(1696.90,278.30) scale(1,1.04)" font-size="25" text-anchor="end">60</text>
<text transform="translate(1696.90,393.40) scale(1,1.04)" font-size="25" text-anchor="end">40</text>
<text transform="translate(1696.90,508.50) scale(1,1.04)" font-size="25" text-anchor="end">20</text>
<text transform="translate(1696.90,623.60) scale(1,1.04)" font-size="25" text-anchor="end">0</text>
<text transform="translate(1733.20,660.90) scale(1,1.04)" font-size="25" text-anchor="middle">-1</text>
<text transform="translate(1766.80,660.90) scale(1,1.04)" font-size="25" text-anchor="middle">0</text>
<text transform="translate(1800.40,660.90) scale(1,1.04)" font-size="25" text-anchor="middle">1</text>
</g>
<text transform="translate(1745.20,707.90) scale(1,1.04)" font-size="30.6">M5</text>
<path d="M1757.07,47.93L1797.23,148.17M1797.39,163.09L1759.91,263.21M1756.44,278.67L1748.16,377.83M1750.52,393.21L1791.48,493.49M1792.63,508.68L1768.67,608.22" stroke="#d06a2a" stroke-width="1.5" fill="none"/>
<circle cx="1754.10" cy="40.50" r="6.2" fill="#3e6a6a"/>
<circle cx="1800.20" cy="155.60" r="6.2" fill="#3e6a6a"/>
<circle cx="1757.10" cy="270.70" r="6.2" fill="#3e6a6a"/>
<circle cx="1747.50" cy="385.80" r="6.2" fill="#3e6a6a"/>
<circle cx="1794.50" cy="500.90" r="6.2" fill="#3e6a6a"/>
<circle cx="1766.80" cy="616.00" r="6.2" fill="#3e6a6a"/>
</g>
</svg>
</body></html>
